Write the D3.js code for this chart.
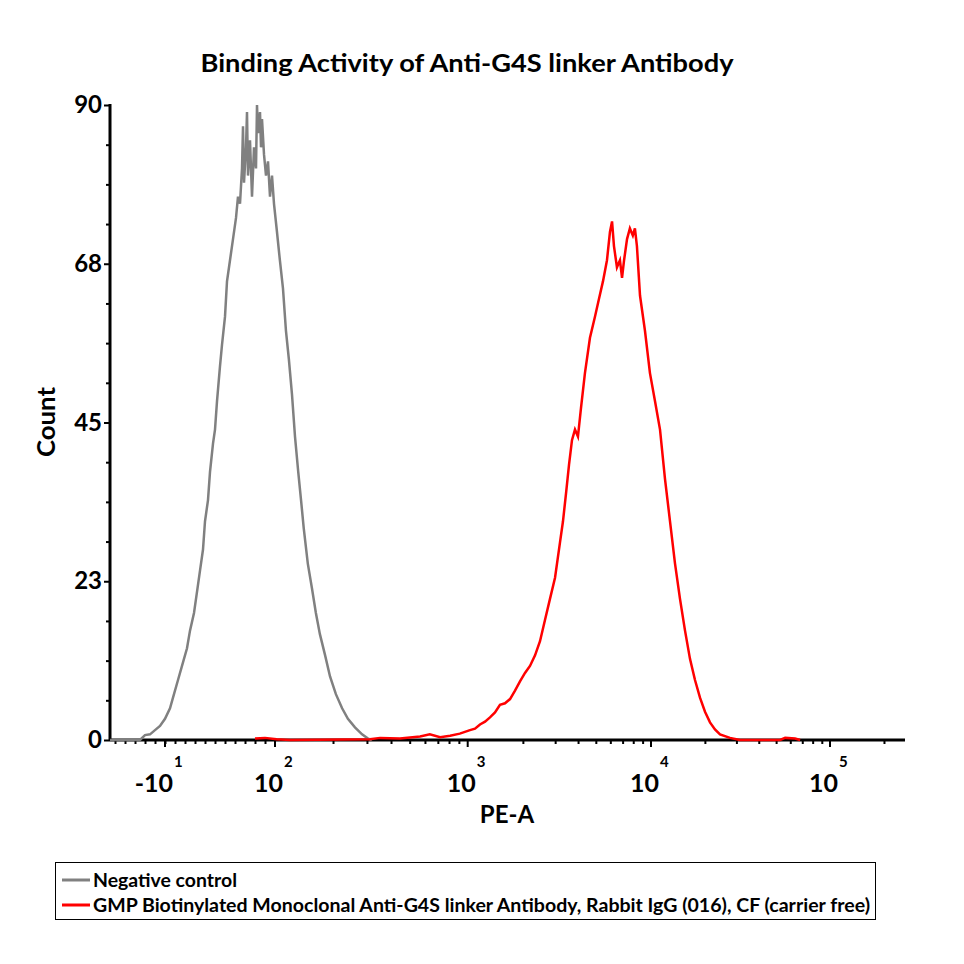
<!doctype html>
<html>
<head>
<meta charset="utf-8">
<title>Binding Activity of Anti-G4S linker Antibody</title>
<style>
  body { margin:0; background:#fff; }
  svg { display:block; font-family: Lato, "Open Sans", sans-serif; font-weight:bold; }
  .tick text { font-family: Lato, "Open Sans", sans-serif; }
</style>
<script src="https://cdnjs.cloudflare.com/ajax/libs/d3/7.8.5/d3.min.js"></script>
</head>
<body>
<svg id="chart" width="964" height="964"></svg>
<script>
// histogram values (PE-A value, count)
var negX = [-65,-35,-30,-25,-20,-15,-10,-5,-2,3,8,12,15,19,22,25,28,30,33,35,38,40,42,45,47,50,52,55,58,61,63,65,67,68,69,71,72,73,75,77,79,81,82,83,85,86,87,89,91,93,95,97,99,
            102.4,106,110,114,118,122.5,127,132,136.5,141,148,155.5,163,171,182,193,207,223,239,260,283,304,318]
var negCount = [0,0,0.7,0.8,1.4,2,3,4.5,6,8.5,11,13,15.5,18,21,24,27,31,34,38,42,44,48,53,56,60,65,68,71,74,77,76,81,87,79,84,89,80,85,77,84,81,90,86,89,84,88,83,80,82,77,80,76,
            72,68,64,58,54,49,43,38,34,30,25,21.5,18,15,12,9,6.5,4.5,3,1.8,0.8,0.2,0]

var posX = [80,90,102,120,311,351,445,566,636,719,810,910,1029,1096,1167,1243,1323,1409,1500,1598,1702,1812,1929,2054,2187,2330,2480,2640,2811,2995,3188,3310,3440,3570,3706,3848,3995,4148,4361,4645,4946,5200,5469,5752,5971,6130,6280,6520,6770,6950,7130,7400,7670,7960,8170,8380,8710,9270,9870,
            10530,11230,11970,12770,13620,14520,15490,16510,17610,18780,20030,21360,22770,24300,27620,31400,52600,56200,63800,68100]
var posCount = [0.2,0.3,0.1,0,0.1,0.3,0.2,0.5,0.8,0.4,0.6,0.9,1.4,1.6,2.2,2.6,3.2,3.9,5,5.2,5.8,7,8.3,9.5,10.5,12,14,17,20,23,28,31,35,39,42.5,44,43,47,52,57,60,62.5,65,68,72,73.5,70,67,68,65.5,68,71,72.5,71.5,72.5,70,63,58,52,
            48,44,37,31,25,20,15.5,11.5,8.5,6,4,2.5,1.5,0.8,0.3,0,0,0.3,0.2,0]

var yTicks = [0, 22.5, 45, 67.5, 90]
var xMajor = [-10, 100, 1000, 10000, 100000]
var xMajorBase = ["-10", "10", "10", "10", "10"]
var xMajorExp = ["1", "2", "3", "4", "5"]
var seriesNames = ["Negative control",
  "GMP Biotinylated Monoclonal Anti-G4S linker Antibody, Rabbit IgG (016), CF (carrier free)"]
var seriesColors = ["#808080", "#ff0000"]
var legendWidths = [144, 777]

var svg = d3.select("#chart")
svg.append("rect").attr("width", 964).attr("height", 964).attr("fill", "#fff")

// biexponential-like axis: linear near zero, log above 100
var xLin = d3.scaleLinear().domain([-65, 100]).range([110, 275])
var xLog = d3.scaleLog().domain([100, 1000, 10000, 100000, 262000]).range([275, 467.7, 651, 830, 905])
function x(v) { return v < 100 ? xLin(v) : xLog(v) }

var y = d3.scaleLinear().domain([0, 90]).range([740, 105])

// title
svg.append("text").attr("x", 467).attr("y", 72).attr("text-anchor", "middle")
  .attr("textLength", 533).attr("lengthAdjust", "spacingAndGlyphs")
  .style("font-size", "25px").text("Binding Activity of Anti-G4S linker Antibody")

// minor ticks
var linMinor = d3.range(-60, 100, 10)
var logMinor = []
;[100, 1000, 10000, 100000].forEach(function(b) {
  for (var k = 2; k <= 9; k++) if (b * k <= 262000) logMinor.push(b * k)
})

svg.append("g").attr("transform", "translate(0,740)")
  .call(d3.axisBottom(xLin).tickValues(linMinor).tickSize(4).tickFormat(""))
  .call(function(g) { g.select(".domain").remove() })
svg.append("g").attr("transform", "translate(0,740)")
  .call(d3.axisBottom(xLog).tickValues(logMinor).tickSize(4).tickFormat(""))
  .call(function(g) { g.select(".domain").remove() })

var yMinor = d3.range(0, 90.01, 5.625).filter(function(d) { return yTicks.indexOf(d) < 0 })
svg.append("g").attr("transform", "translate(110,0)")
  .call(d3.axisLeft(y).tickValues(yMinor).tickSize(4).tickFormat(""))
  .call(function(g) { g.select(".domain").remove() })

// major ticks
var gy = svg.append("g").attr("transform", "translate(110,0)")
  .call(d3.axisLeft(y).tickValues(yTicks).tickSize(6).tickPadding(2).tickFormat(function(d) { return Math.round(d) }))
gy.select(".domain").remove()
gy.selectAll(".tick text").style("font-size", "24px").style("font-weight", "bold")

var gx = svg.append("g").attr("transform", "translate(0,740)")
gx.selectAll("line").data(xMajor).enter().append("line")
  .attr("x1", function(d) { return x(d) }).attr("x2", function(d) { return x(d) })
  .attr("y1", 0).attr("y2", 7).attr("stroke", "#000").attr("stroke-width", 2)
gx.selectAll("text.base").data(xMajor).enter().append("text").attr("class", "base")
  .attr("x", function(d) { return x(d) + 8 }).attr("y", 52).attr("text-anchor", "end")
  .style("font-size", "25px").text(function(d, i) { return xMajorBase[i] })
gx.selectAll("text.exp").data(xMajor).enter().append("text").attr("class", "exp")
  .attr("x", function(d) { return x(d) + 9 }).attr("y", 27)
  .style("font-size", "15px").text(function(d, i) { return xMajorExp[i] })

svg.selectAll(".tick line").attr("stroke", "#000").attr("stroke-width", 2)

// axis lines
svg.append("line").attr("x1", 110).attr("x2", 905).attr("y1", 740).attr("y2", 740)
  .attr("stroke", "#000").attr("stroke-width", 3)
svg.append("line").attr("x1", 110).attr("x2", 110).attr("y1", 104).attr("y2", 741)
  .attr("stroke", "#000").attr("stroke-width", 3)

// curves
var line = d3.line().x(function(d) { return x(d[0]) }).y(function(d) { return y(d[1]) })
var negData = negX.map(function(v, i) { return [v, negCount[i]] })
var posData = posX.map(function(v, i) { return [v, posCount[i]] })
svg.append("path").datum(negData).attr("d", line).attr("fill", "none")
  .attr("stroke", seriesColors[0]).attr("stroke-width", 2.5)
svg.append("path").datum(posData).attr("d", line).attr("fill", "none")
  .attr("stroke", seriesColors[1]).attr("stroke-width", 2.5)

// axis titles
svg.append("text").attr("x", 507).attr("y", 823).attr("text-anchor", "middle")
  .style("font-size", "24px").text("PE-A")
svg.append("text").attr("transform", "translate(55,422) rotate(-90)").attr("text-anchor", "middle")
  .attr("textLength", 70).attr("lengthAdjust", "spacingAndGlyphs")
  .style("font-size", "25px").text("Count")

// legend
var lg = svg.append("g")
lg.append("rect").attr("x", 55.5).attr("y", 862.5).attr("width", 820).attr("height", 57)
  .attr("fill", "#fff").attr("stroke", "#000").attr("stroke-width", 1)
seriesNames.forEach(function(n, i) {
  var yy = 880 + i * 25
  lg.append("line").attr("x1", 62).attr("x2", 90).attr("y1", yy).attr("y2", yy)
    .attr("stroke", seriesColors[i]).attr("stroke-width", 3)
  lg.append("text").attr("x", 93).attr("y", yy + 7)
    .attr("textLength", legendWidths[i]).attr("lengthAdjust", "spacingAndGlyphs")
    .style("font-size", "18.5px").text(n)
})
</script>
</body>
</html>
